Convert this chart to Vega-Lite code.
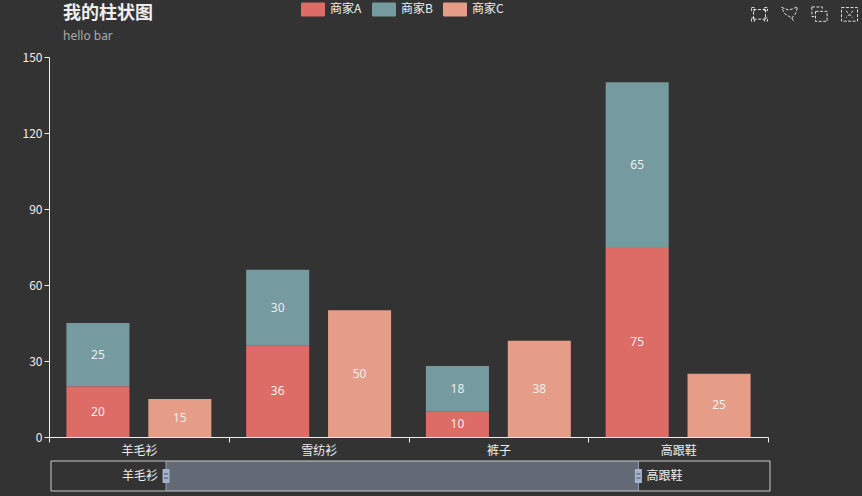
{
  "$schema": "https://vega.github.io/schema/vega-lite/v6.json",
  "background": "#333333",
  "padding": {"left": 22, "top": 3, "right": 9, "bottom": 4},
  "title": {
    "text": "我的柱状图",
    "subtitle": "hello bar",
    "anchor": "start",
    "frame": "group",
    "dx": 14,
    "offset": -39,
    "font": "Noto Sans CJK SC",
    "fontSize": 18,
    "fontWeight": "bold",
    "color": "#eeeeee",
    "subtitleFont": "Noto Sans",
    "subtitleFontSize": 12,
    "subtitleColor": "#aaaaaa",
    "subtitlePadding": 8
  },
  "config": {
    "font": "Noto Sans CJK SC",
    "view": {"stroke": null}
  },
  "datasets": {
    "sales": [
      {"product": "羊毛衫", "merchant": "商家A", "stack": "s1", "value": 20},
      {"product": "羊毛衫", "merchant": "商家B", "stack": "s1", "value": 25},
      {"product": "羊毛衫", "merchant": "商家C", "stack": "s2", "value": 15},
      {"product": "雪纺衫", "merchant": "商家A", "stack": "s1", "value": 36},
      {"product": "雪纺衫", "merchant": "商家B", "stack": "s1", "value": 30},
      {"product": "雪纺衫", "merchant": "商家C", "stack": "s2", "value": 50},
      {"product": "裤子", "merchant": "商家A", "stack": "s1", "value": 10},
      {"product": "裤子", "merchant": "商家B", "stack": "s1", "value": 18},
      {"product": "裤子", "merchant": "商家C", "stack": "s2", "value": 38},
      {"product": "高跟鞋", "merchant": "商家A", "stack": "s1", "value": 75},
      {"product": "高跟鞋", "merchant": "商家B", "stack": "s1", "value": 65},
      {"product": "高跟鞋", "merchant": "商家C", "stack": "s2", "value": 25}
    ],
    "tools": [
      {"tool": "zoom"},
      {"tool": "lasso"},
      {"tool": "restore"},
      {"tool": "clear"}
    ],
    "frame": [{"start": 0, "end": 100}],
    "window": [{"start": 16, "end": 81.7}],
    "handles": [
      {"pct": 16, "label": "羊毛衫", "side": "left"},
      {"pct": 81.7, "label": "高跟鞋", "side": "right"}
    ]
  },
  "bounds": "flush",
  "spacing": 24,
  "vconcat": [
    {
      "width": 719,
      "height": 380,
      "layer": [
        {
          "data": {"name": "sales"},
          "mark": {"type": "bar", "stroke": null},
          "encoding": {
            "x": {
              "field": "product",
              "type": "nominal",
              "sort": null,
              "title": null,
              "scale": {"paddingInner": 0, "paddingOuter": 0},
              "axis": {
                "tickBand": "extent",
                "labelAngle": 0,
                "labelColor": "#eeeeee",
                "labelFontSize": 12,
                "labelPadding": 3,
                "domainColor": "#eeeeee",
                "tickColor": "#eeeeee",
                "tickSize": 5
              }
            },
            "xOffset": {
              "field": "stack",
              "type": "nominal",
              "scale": {"paddingInner": 0.23, "paddingOuter": 0.2125}
            },
            "y": {
              "field": "value",
              "type": "quantitative",
              "stack": "zero",
              "title": null,
              "scale": {"domain": [0, 150], "nice": false},
              "axis": {
                "values": [0, 30, 60, 90, 120, 150],
                "grid": false,
                "labelColor": "#eeeeee",
                "labelFontSize": 12,
                "domainColor": "#eeeeee",
                "tickColor": "#eeeeee",
                "tickSize": 5
              }
            },
            "order": {"field": "merchant", "type": "ordinal"},
            "color": {
              "field": "merchant",
              "type": "nominal",
              "title": null,
              "scale": {
                "domain": ["商家A", "商家B", "商家C"],
                "range": ["#dd6b66", "#759aa0", "#e69d87"]
              },
              "legend": {
                "orient": "none",
                "direction": "horizontal",
                "columns": 3,
                "legendX": 252,
                "legendY": -54,
                "symbolType": "M-1,-1Q-1,-1.17,-0.8,-1.17L2.8,-1.17Q3,-1.17,3,-1L3,1Q3,1.17,2.8,1.17L-0.8,1.17Q-1,1.17,-1,1Z",
                "symbolSize": 144,
                "symbolStrokeWidth": 0,
                "symbolOpacity": 1,
                "labelColor": "#eeeeee",
                "labelFontSize": 12,
                "labelOffset": 17,
                "columnPadding": 10
              }
            }
          }
        },
        {
          "data": {"name": "sales"},
          "mark": {"type": "text", "color": "#eeeeee", "fontSize": 12, "font": "Noto Sans"},
          "encoding": {
            "x": {"field": "product", "type": "nominal", "sort": null},
            "xOffset": {"field": "stack", "type": "nominal"},
            "y": {"field": "value", "type": "quantitative", "stack": "zero", "bandPosition": 0.5},
            "order": {"field": "merchant", "type": "ordinal"},
            "text": {"field": "value", "type": "quantitative"}
          }
        },
        {
          "data": {"name": "tools"},
          "mark": {"type": "point", "opacity": 0},
          "encoding": {
            "shape": {
              "field": "tool",
              "type": "nominal",
              "title": null,
              "scale": {
                "domain": ["zoom", "lasso", "restore", "clear"],
                "range": [
                  "M-0.75,-0.6L0.75,-0.6M0.75,-0.6L0.75,0.6M0.75,0.6L-0.75,0.6M-0.75,0.6L-0.75,-0.6M-1,-0.85L-0.6,-0.85L-0.6,-0.45L-1,-0.45ZM0.6,-0.85L1,-0.85L1,-0.45L0.6,-0.45ZM0.6,0.45L1,0.45L1,0.85L0.6,0.85ZM-1,0.45L-0.6,0.45L-0.6,0.85L-1,0.85Z",
                  "M-1,-0.8L-0.1,-0.45L1,-0.85L0.8,-0.1L0.3,0.55L-0.6,0ZM0.3,0.55L0.55,1",
                  "M-0.95,-0.9L0.35,-0.9L0.35,-0.5M-0.95,-0.9L-0.95,0.3L-0.5,0.3M-0.5,-0.35L0.95,-0.35L0.95,0.9L-0.5,0.9Z",
                  "M-1,-0.85L1,-0.85L1,0.85L-1,0.85ZM-0.45,-0.45L0.45,0.45M0.45,-0.45L-0.45,0.45"
                ]
              },
              "legend": {
                "orient": "none",
                "direction": "horizontal",
                "columns": 4,
                "legendX": 702,
                "legendY": -52,
                "symbolSize": 256,
                "symbolOpacity": 1,
                "symbolFillColor": "transparent",
                "symbolStrokeColor": "#dddddd",
                "symbolStrokeWidth": 1,
                "symbolDash": [3, 1.5],
                "labelExpr": "''",
                "labelOffset": 0,
                "labelFontSize": 1,
                "columnPadding": 9
              }
            }
          }
        }
      ]
    },
    {
      "width": 721,
      "height": 30,
      "encoding": {
        "x": {
          "field": "start",
          "type": "quantitative",
          "axis": null,
          "scale": {"domain": [0, 100], "range": [2, 721], "nice": false}
        }
      },
      "layer": [
        {
          "data": {"name": "window"},
          "mark": {"type": "rect", "fill": "#646a75"},
          "encoding": {"x2": {"field": "end"}}
        },
        {
          "data": {"name": "frame"},
          "mark": {"type": "rect", "fill": null, "stroke": "#cccccc", "strokeWidth": 1},
          "encoding": {"x2": {"field": "end"}}
        },
        {
          "data": {"name": "handles"},
          "mark": {"type": "rule", "color": "#8fa6c6", "strokeWidth": 1},
          "encoding": {"x": {"field": "pct", "type": "quantitative"}}
        },
        {
          "data": {"name": "handles"},
          "mark": {
            "type": "point",
            "shape": "M-0.5,-1L0.5,-1L0.5,1L-0.5,1Z",
            "size": 196,
            "filled": true,
            "opacity": 1,
            "color": "#a3b4cc"
          },
          "encoding": {"x": {"field": "pct", "type": "quantitative"}}
        },
        {
          "data": {"name": "handles"},
          "mark": {
            "type": "point",
            "shape": "M-0.3,-0.3L0.3,-0.3M-0.3,0.3L0.3,0.3",
            "size": 196,
            "filled": false,
            "opacity": 1,
            "strokeWidth": 1,
            "color": "#4a4f58"
          },
          "encoding": {"x": {"field": "pct", "type": "quantitative"}}
        },
        {
          "data": {"name": "handles"},
          "transform": [{"filter": "datum.side === 'left'"}],
          "mark": {"type": "text", "align": "right", "dx": -8, "color": "#eeeeee", "fontSize": 12},
          "encoding": {
            "x": {"field": "pct", "type": "quantitative"},
            "text": {"field": "label", "type": "nominal"}
          }
        },
        {
          "data": {"name": "handles"},
          "transform": [{"filter": "datum.side === 'right'"}],
          "mark": {"type": "text", "align": "left", "dx": 8, "color": "#eeeeee", "fontSize": 12},
          "encoding": {
            "x": {"field": "pct", "type": "quantitative"},
            "text": {"field": "label", "type": "nominal"}
          }
        }
      ]
    }
  ]
}
